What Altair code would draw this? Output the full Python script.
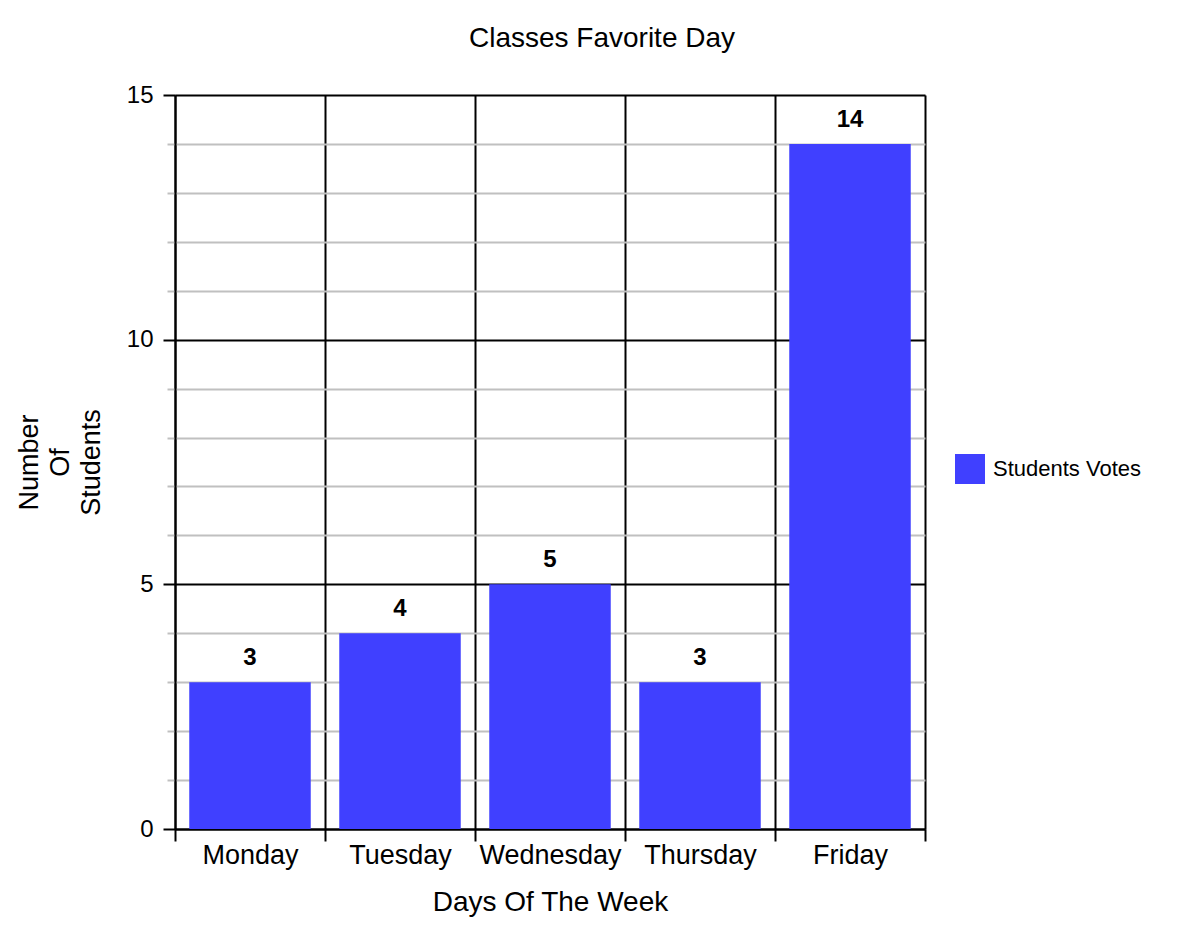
import altair as alt
import pandas as pd

days = ["Monday", "Tuesday", "Wednesday", "Thursday", "Friday"]
votes = [3, 4, 5, 3, 14]
series = ["Students Votes"] * len(days)
y_ticks = list(range(0, 16))

df = pd.DataFrame({"day": days, "votes": votes, "series": series})

FONT = "Liberation Sans"
BLUE = "#4040FF"

x_enc = alt.X(
    "day:N",
    sort=days,
    scale=alt.Scale(paddingInner=0, paddingOuter=0),
    axis=alt.Axis(
        title="Days Of The Week",
        titleFontSize=28,
        titleFontWeight="normal",
        titlePadding=20,
        labelFontSize=27,
        labelAngle=0,
        labelPadding=1,
        tickBand="extent",
        tickSize=12,
        tickWidth=2,
        tickColor="black",
        domainColor="black",
        domainWidth=2,
        grid=True,
        gridColor="black",
        gridWidth=2,
        gridOpacity=1,
        labelColor="black",
        titleColor="black",
    ),
)

y_enc = alt.Y(
    "votes:Q",
    scale=alt.Scale(domain=[0, 15], nice=False),
    axis=alt.Axis(
        title=["Number", "Of", "Students"],
        titleFontSize=27,
        titleFontWeight="normal",
        titleLineHeight=31,
        titlePadding=21,
        values=y_ticks,
        labelExpr="datum.value % 5 === 0 ? datum.label : ''",
        labelFontSize=24,
        labelPadding=10,
        tickSize=alt.condition("datum.value % 5 === 0", alt.value(12), alt.value(8)),
        tickWidth=2,
        tickColor=alt.condition("datum.value % 5 === 0", alt.value("black"), alt.value("#c0c0c0")),
        gridColor=alt.condition("datum.value % 5 === 0", alt.value("black"), alt.value("#c0c0c0")),
        gridWidth=2,
        gridOpacity=1,
        domainColor="black",
        domainWidth=2,
        labelColor="black",
        titleColor="black",
    ),
)

bars = alt.Chart(df).mark_bar(width=alt.RelativeBandSize(0.81)).encode(
    x=x_enc,
    y=y_enc,
    color=alt.Color(
        "series:N",
        scale=alt.Scale(range=[BLUE]),
        legend=alt.Legend(
            title=None,
            orient="none",
            legendX=780,
            legendY=359,
            padding=0,
            symbolType="square",
            symbolSize=900,
            symbolStrokeWidth=0,
            symbolOpacity=1,
            labelFontSize=22,
            labelOffset=8,
            labelColor="black",
        ),
    ),
)

labels = alt.Chart(df).mark_text(
    baseline="bottom", dy=-12, fontSize=24, fontWeight="bold", font=FONT, color="black"
).encode(x=alt.X("day:N", sort=days), y="votes:Q", text="votes:Q")

chart = (
    alt.layer(bars, labels)
    .properties(
        width=750,
        height=734,
        title=alt.TitleParams(
            "Classes Favorite Day", fontSize=28, fontWeight="normal", font=FONT,
            color="black", dx=52, offset=30, anchor="middle",
        ),
        autosize=alt.AutoSizeParams(type="none"),
        padding={"left": 167, "top": 87, "right": 259, "bottom": 94},
    )
    .configure_view(stroke="black", strokeWidth=2)
    .configure(font=FONT)
    .configure_axis(labelFont=FONT, titleFont=FONT)
    .configure_legend(labelFont=FONT)
)

chart.save("out.html", embed_options={"renderer": "svg", "actions": False})
